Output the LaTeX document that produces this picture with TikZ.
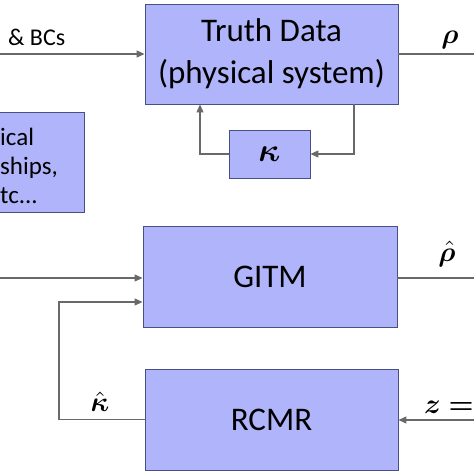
\documentclass[tikz,border=0pt]{standalone}
\usepackage{amsmath,amssymb}
\usepackage{bm}
\usepackage{graphicx}
\usepackage{fontspec}
\setmainfont{Carlito}
\usepackage{tikz}
\usetikzlibrary{arrows.meta}

\definecolor{blockfill}{RGB}{176,180,250}
\definecolor{blockline}{RGB}{70,80,130}
\definecolor{wire}{RGB}{105,105,105}

% big math symbol
\newcommand{\bigsym}[2]{\scalebox{#1}{$\bm{#2}$}}

\begin{document}
\begin{tikzpicture}[
    x=1pt, y=-1pt,
    block/.style={draw=blockline, line width=0.9pt, fill=blockfill, inner sep=0pt},
    big/.style={font=\fontsize{33}{42}\selectfont, align=center},
    sig/.style={draw=wire, line width=1.2pt, -{Triangle[length=8pt,width=7pt]}},
    bare/.style={draw=wire, line width=1.2pt},
    lbl/.style={inner sep=0pt}
  ]
  \useasboundingbox (0,0) rectangle (474,474);

  % blocks
  \node[block, big, minimum width=253pt, minimum height=100pt] (truth) at (271.5,54)
    {Truth Data\\(physical system)};
  \node[block, minimum width=100pt, minimum height=100pt] (phys) at (34,162) {};
  \node[font=\fontsize{25}{29}\selectfont, align=left, anchor=west, inner sep=0pt] (physTxt) at (0,166)
    {ical\\ships,\\tc...};
  \node[block, minimum width=81pt, minimum height=48pt] (kappa) at (269.5,154)
    {\bigsym{3.3}{\kappa}};
  \node[block, big, minimum width=254pt, minimum height=101pt] (gitm) at (270,276.5) {GITM};
  \node[block, big, minimum width=253pt, minimum height=101pt] (rcmr) at (271.5,419.5) {RCMR};

  % truth loop
  \coordinate (inA) at (0,54);
  \coordinate (outA) at (474,54);
  \draw[sig] (inA) -- (inA -| truth.west);
  \node[font=\fontsize{24}{28}\selectfont, inner sep=0pt, anchor=base west] (bcs) at (8,45) {\& BCs};
  \draw[bare] (truth.east |- outA) -- (outA);
  \node[lbl] (rho) at (450,40) {\bigsym{2.8}{\rho}};
  \draw[sig] ([xshift=82.5pt]truth.south) |- (kappa.east);
  \draw[sig] (kappa.west) -| ([xshift=-71.5pt]truth.south);

  % model loop
  \coordinate (inB) at (0,278);
  \coordinate (outB) at (474,278);
  \coordinate (fb) at (59,302);
  \draw[sig] (inB) -- (inB -| gitm.west);
  \draw[bare] (gitm.east |- outB) -- (outB);
  \node[lbl] (rhohat) at (447,254) {\bigsym{2.8}{\hat{\rho}}};
  \draw[sig] (rcmr.west) -| (fb) -- (fb -| gitm.west);
  \node[lbl] (kappahat) at (100,402) {\bigsym{2.8}{\hat{\kappa}}};
  \coordinate (inZ) at (474,420);
  \draw[sig] (inZ) -- (inZ -| rcmr.east);
  \node[lbl, anchor=base west] (zeq) at (424,413) {\bigsym{2.8}{z =}};
\end{tikzpicture}
\end{document}
